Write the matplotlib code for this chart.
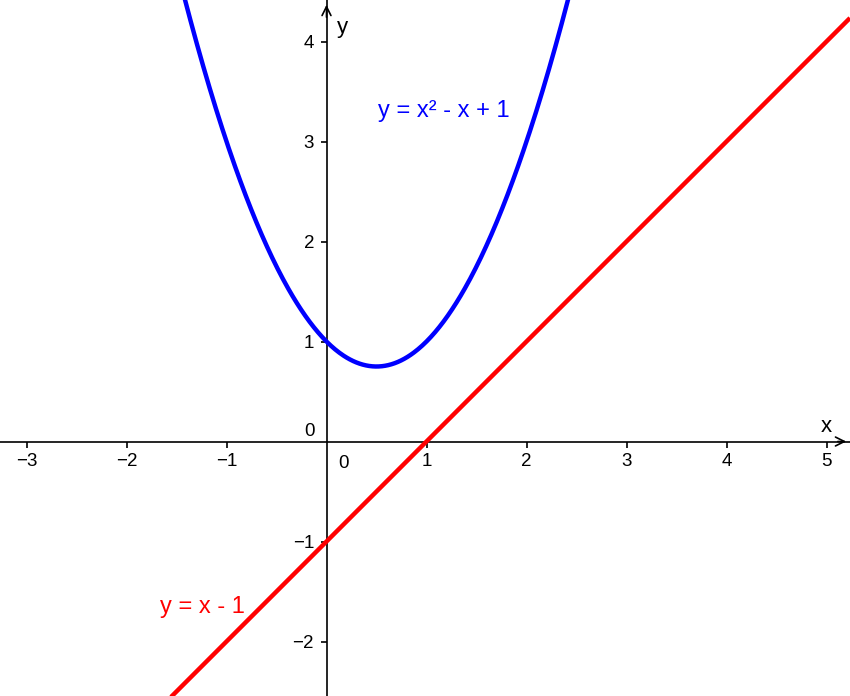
import numpy as np
import matplotlib.pyplot as plt

plt.rcParams['font.family'] = ['Liberation Sans', 'DejaVu Sans']

# polynomial coefficients (highest power first)
parabola = [1, -1, 1]      # y = x^2 - x + 1
line = [1, -1]             # y = x - 1
parabola_label = "y = x² - x + 1"
line_label = "y = x - 1"

x_ticks = [-3, -2, -1, 1, 2, 3, 4, 5]
y_ticks = [-2, -1, 1, 2, 3, 4]

xmin, xmax = -3.265, 5.235
ymin, ymax = -2.545, 4.415

fig = plt.figure(figsize=(8.5, 6.96), dpi=100)
ax = fig.add_axes([0, 0, 1, 1])
ax.set_xlim(xmin, xmax)
ax.set_ylim(ymin, ymax)

xs = np.linspace(xmin, xmax, 800)
ax.plot(xs, np.polyval(parabola, xs), color="#0000ff", lw=3.2, solid_capstyle="butt", zorder=3)
ax.plot(xs, np.polyval(line, xs), color="#ff0000", lw=3.2, solid_capstyle="butt", zorder=3)

for s in ["top", "right"]:
    ax.spines[s].set_visible(False)
ax.spines["left"].set_position(("data", 0))
ax.spines["bottom"].set_position(("data", 0))
ax.spines["left"].set_linewidth(1.2)
ax.spines["bottom"].set_linewidth(1.2)

ax.set_xticks(x_ticks)
ax.set_yticks(y_ticks)
ax.set_xticklabels([f"{t}".replace("-", "\u2212") for t in x_ticks])
ax.set_yticklabels([f"{t}".replace("-", "\u2212") for t in y_ticks])
ax.tick_params(axis="both", direction="out", length=4, width=1.2, labelsize=13.5)
ax.tick_params(axis="x", pad=4)
ax.tick_params(axis="y", pad=5)

# arrow heads
ax.annotate("", xy=(xmax - 0.01, 0), xytext=(xmax - 0.15, 0),
            arrowprops=dict(arrowstyle="->", lw=1.2, color="black", mutation_scale=16))
ax.annotate("", xy=(0, ymax - 0.02), xytext=(0, ymax - 0.2),
            arrowprops=dict(arrowstyle="->", lw=1.2, color="black", mutation_scale=16))

ax.text(5.0, 0.15, "x", fontsize=16, ha="center", va="center")
ax.text(0.16, 4.14, "y", fontsize=16, ha="center", va="center")
ax.text(0.17, -0.22, "0", fontsize=13.5, ha="center", va="center")
ax.text(-0.17, 0.10, "0", fontsize=13.5, ha="center", va="center")

ax.text(0.51, 3.31, parabola_label, color="#0000ff", fontsize=17, ha="left", va="center")
ax.text(-1.67, -1.65, line_label, color="#ff0000", fontsize=17, ha="left", va="center")

fig.savefig("out.png", dpi=100)
